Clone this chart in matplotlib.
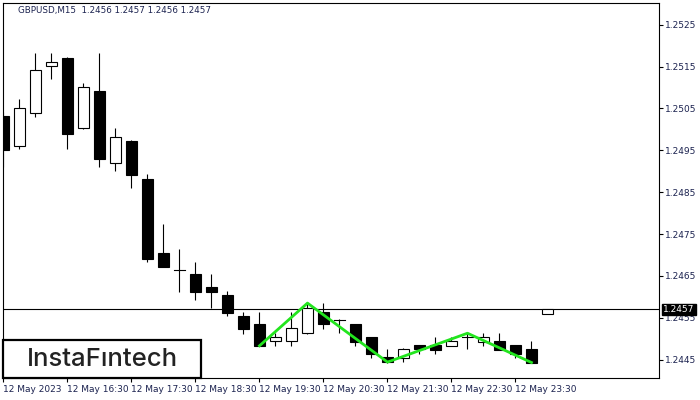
import numpy as np
import matplotlib
matplotlib.use("Agg")
import matplotlib.pyplot as plt
from matplotlib.patches import Rectangle

# GBPUSD M15 candles, 12 May 2023 from 15:30
opens = [1.25032, 1.24961, 1.25040, 1.25151, 1.25171, 1.25003, 1.25092, 1.24920, 1.24972,
         1.24882, 1.24705, 1.24664, 1.24655, 1.24624, 1.24605, 1.24554, 1.24535, 1.24494,
         1.24494, 1.24513, 1.24564, 1.24545, 1.24535, 1.24503, 1.24455, 1.24453, 1.24484,
         1.24484, 1.24483, 1.24503, 1.24493, 1.24494, 1.24484, 1.24475, 1.24560]
highs = [1.25042, 1.25073, 1.25183, 1.25183, 1.25172, 1.25111, 1.25183, 1.25003, 1.24974,
         1.24894, 1.24774, 1.24714, 1.24683, 1.24655, 1.24614, 1.24564, 1.24564, 1.24513,
         1.24564, 1.24585, 1.24585, 1.24546, 1.24536, 1.24504, 1.24476, 1.24477, 1.24485,
         1.24503, 1.24503, 1.24513, 1.24513, 1.24513, 1.24485, 1.24495, 1.24570]
lows = [1.24910, 1.24952, 1.25030, 1.25121, 1.24952, 1.25002, 1.24911, 1.24901, 1.24861,
        1.24682, 1.24671, 1.24612, 1.24593, 1.24573, 1.24553, 1.24512, 1.24482, 1.24483,
        1.24483, 1.24512, 1.24524, 1.24513, 1.24483, 1.24453, 1.24443, 1.24444, 1.24463,
        1.24463, 1.24482, 1.24475, 1.24483, 1.24473, 1.24453, 1.24442, 1.24560]
closes = [1.24951, 1.25050, 1.25142, 1.25161, 1.24990, 1.25101, 1.24930, 1.24982, 1.24892,
          1.24691, 1.24672, 1.24664, 1.24612, 1.24612, 1.24562, 1.24524, 1.24483, 1.24503,
          1.24525, 1.24573, 1.24535, 1.24543, 1.24493, 1.24463, 1.24444, 1.24476, 1.24475,
          1.24474, 1.24494, 1.24503, 1.24503, 1.24474, 1.24463, 1.24443, 1.24570]

# pattern outline (bar index, price)
pattern_idx = [16, 19, 24, 29, 33]
pattern_px = [1.24483, 1.24585, 1.24444, 1.24513, 1.24443]

current_price = 1.2457
title = "GBPUSD,M15  1.2456 1.2457 1.2456 1.2457"
xtick_idx = [0, 4, 8, 12, 16, 20, 24, 28, 32]
xtick_labels = ["12 May 2023", "12 May 16:30", "12 May 17:30", "12 May 18:30", "12 May 19:30",
                "12 May 20:30", "12 May 21:30", "12 May 22:30", "12 May 23:30"]
yticks = [1.2445, 1.2455, 1.2465, 1.2475, 1.2485, 1.2495, 1.2505, 1.2515, 1.2525]

txt_col = "#1c2350"
fs = 6.5

fig = plt.figure(figsize=(7, 4), dpi=100)
ax = fig.add_axes([3 / 700, 22 / 400, 656 / 700, 375 / 400])

w = 0.66
for i in range(len(opens)):
    o, h, l, c = opens[i], highs[i], lows[i], closes[i]
    ax.plot([i, i], [l, h], color="black", lw=0.8, zorder=2, solid_capstyle="butt")
    bottom = min(o, c)
    height = abs(c - o)
    if height < 0.00002:
        ax.plot([i - w / 2, i + w / 2], [o, o], color="black", lw=0.8, zorder=3)
        continue
    face = "white" if c > o else "black"
    ax.add_patch(Rectangle((i - w / 2, bottom), w, height, facecolor=face,
                           edgecolor="black", lw=0.8, zorder=3))

ax.axhline(current_price, color="black", lw=0.8, zorder=1)
ax.plot(pattern_idx, pattern_px, color="#22e51e", lw=2, zorder=4)

ax.set_xlim(-0.031, 40.97)
ax.set_ylim(1.24406, 1.25302)

ax.set_xticks(xtick_idx)
ax.set_xticklabels(xtick_labels, ha="left", fontsize=fs, color=txt_col)
ax.yaxis.tick_right()
ax.set_yticks(yticks)
ax.set_yticklabels([f"{v:.4f}" for v in yticks], fontsize=fs, color=txt_col)
ax.tick_params(axis="x", length=3, width=0.8, pad=2)
ax.tick_params(axis="y", length=3, width=0.8, pad=1)
for s in ax.spines.values():
    s.set_linewidth(0.8)

ax.text(15 / 656, 1 - 8 / 375, title, transform=ax.transAxes, fontsize=6.3,
        color=txt_col, va="center", ha="left")

# current price tag on the axis
ax.annotate(f"{current_price:.4f}", xy=(1, current_price), xycoords=("axes fraction", "data"),
            xytext=(3, 0), textcoords="offset points", fontsize=fs, color="white",
            va="center", ha="left",
            bbox=dict(boxstyle="square,pad=0.15", facecolor="black", edgecolor="black"))

# logo box
fig.patches.append(Rectangle((3 / 700, 22 / 400), 198 / 700, 38 / 400, transform=fig.transFigure,
                             facecolor="white", edgecolor="black", lw=1.6, zorder=5))
fig.text(102 / 700, 41 / 400, "InstaF\u0131ntech", fontsize=18.5, family="Inter",
         weight="medium", color="#222222", ha="center", va="center", zorder=6)

fig.savefig("out.png", dpi=100)
